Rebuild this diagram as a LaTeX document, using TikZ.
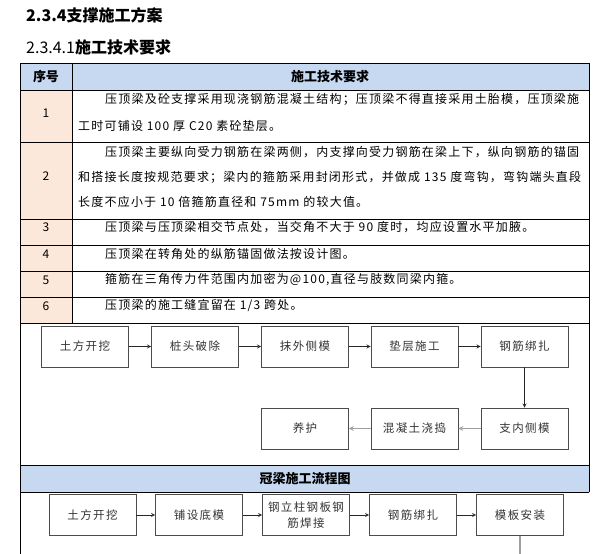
\documentclass[tikz,border=0pt]{standalone}
\usepackage{fontspec}
\setmainfont{Noto Sans CJK SC}
\usepackage{tikz}

\definecolor{headblue}{RGB}{198,217,241}
\definecolor{numpeach}{RGB}{252,232,218}

\begin{document}
\begin{tikzpicture}[x=1pt, y=-1pt, >=stealth,
  txt/.style={anchor=west, inner sep=0pt, font=\fontsize{12}{14}\selectfont\addfontfeature{LetterSpace=10}},
  num/.style={inner sep=0pt, font=\fontsize{12}{14}\selectfont},
  head/.style={inner sep=0pt, font=\fontsize{13}{15}\selectfont\bfseries},
  box/.style={draw=gray!60!black, line width=0.9pt, minimum width=87pt, minimum height=41pt, inner sep=2pt, align=center, text=black!80, font=\fontsize{11.5}{16}\selectfont\addfontfeature{LetterSpace=12}},
  flow/.style={->, line width=0.8pt, black!85},
  back/.style={->, line width=1.1pt, gray!75}]
  \useasboundingbox (0,0) rectangle (598,554);

  % 标题
  \node[anchor=west, inner sep=0pt, font=\fontsize{16}{18}\selectfont\bfseries] (title) at (26,15) {2.3.4支撑施工方案};
  \node[anchor=west, inner sep=0pt, font=\fontsize{16}{18}\selectfont] (subtitle) at (26,47) {2.3.4.1\textbf{施工技术要求}};

  % 表格底色
  \fill[headblue] (20,63) rectangle (589,90);
  \fill[numpeach] (20,90) rectangle (72,323);
  \fill[headblue] (20,465) rectangle (589,492);

  % 表格线
  \draw[line width=1pt] (20,554) -- (20,63) -- (589,63) -- (589,492);
  \draw[line width=1pt] (72,63) -- (72,323);
  \foreach \y in {90,142,219,245,271,297,323,465,492}
    \draw[line width=1pt] (20,\y) -- (589,\y);

  % 表头
  \node[head] (hnum) at (46,76.5) {序号};
  \node[head] (hreq) at (330,76.5) {施工技术要求};

  % 序号
  \node[num] (n1) at (46,113) {1};
  \node[num] (n2) at (46,176) {2};
  \node[num] (n3) at (46,227) {3};
  \node[num] (n4) at (46,254) {4};
  \node[num] (n5) at (46,280) {5};
  \node[num] (n6) at (46,306) {6};

  % 技术要求
  \node[txt] (r1a) at (105,99) {压顶梁及砼支撑采用现浇钢筋混凝土结构；压顶梁不得直接采用土胎模，压顶梁施};
  \node[txt] (r1b) at (78,126) {工时可铺设 100 厚 C20 素砼垫层。};
  \node[txt] (r2a) at (105,152) {压顶梁主要纵向受力钢筋在梁两侧，内支撑向受力钢筋在梁上下，纵向钢筋的锚固};
  \node[txt] (r2b) at (78,177) {和搭接长度按规范要求；梁内的箍筋采用封闭形式，并做成 135 度弯钩，弯钩端头直段};
  \node[txt] (r2c) at (78,202) {长度不应小于 10 倍箍筋直径和 75mm 的较大值。};
  \node[txt] (r3) at (105,227) {压顶梁与压顶梁相交节点处，当交角不大于 90 度时，均应设置水平加腋。};
  \node[txt] (r4) at (105,254) {压顶梁在转角处的纵筋锚固做法按设计图。};
  \node[txt] (r5) at (105,280) {箍筋在三角传力件范围内加密为@100,直径与肢数同梁内箍。};
  \node[txt] (r6) at (105,306) {压顶梁的施工缝宜留在 1/3 跨处。};

  % 支撑流程
  \node[box] (s1) at (85,346.5) {土方开挖};
  \node[box] (s2) at (195,346.5) {桩头破除};
  \node[box] (s3) at (305,346.5) {抹外侧模};
  \node[box] (s4) at (414.5,346.5) {垫层施工};
  \node[box] (s5) at (524.5,346.5) {钢筋绑扎};
  \node[box] (s6) at (524.5,428.5) {支内侧模};
  \node[box] (s7) at (414.5,428.5) {混凝土浇捣};
  \node[box] (s8) at (305,428.5) {养护};
  \draw[flow] (s1) -- (s2);
  \draw[flow] (s2) -- (s3);
  \draw[flow] (s3) -- (s4);
  \draw[flow] (s4) -- (s5);
  \draw[flow] (s5) -- (s6);
  \draw[back] (s6) -- (s7);
  \draw[back] (s7) -- (s8);

  % 冠梁施工流程图
  \node[head] (hcap) at (305,478.5) {冠梁施工流程图};
  \node[box] (c1) at (92.5,515) {土方开挖};
  \node[box] (c2) at (199,515) {铺设底模};
  \node[box] (c3) at (306,515) {钢立柱钢板钢\\筋焊接};
  \node[box] (c4) at (413,515) {钢筋绑扎};
  \node[box] (c5) at (520,515) {模板安装};
  \coordinate (cend) at (520,554);
  \draw[flow] (c1) -- (c2);
  \draw[flow] (c2) -- (c3);
  \draw[flow] (c3) -- (c4);
  \draw[flow] (c4) -- (c5);
  \draw[line width=1.1pt, gray!75] (c5) -- (cend);
\end{tikzpicture}
\end{document}
